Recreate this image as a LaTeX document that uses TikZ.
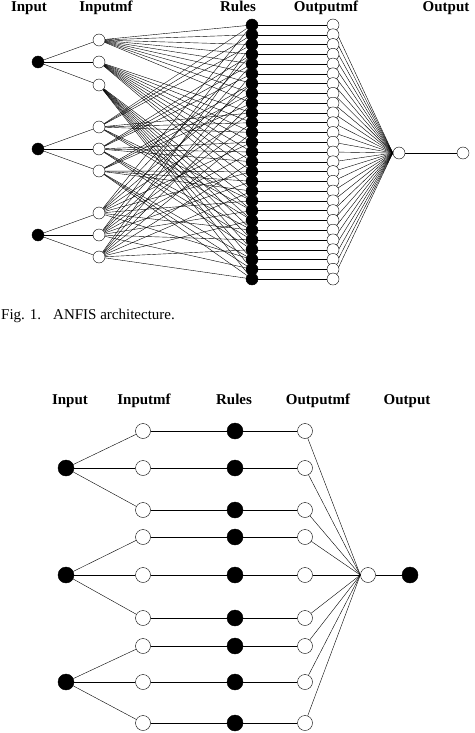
\documentclass[tikz,border=0pt]{standalone}
\usepackage{fontspec}
\setmainfont{Liberation Serif}
\usepackage{tikz}
\usetikzlibrary{positioning, backgrounds}

\begin{document}
\begin{tikzpicture}[
    x=1pt, y=-1pt,
    font=\fontsize{15}{17}\selectfont,
    layer/.style={
        anchor=base,
        inner sep=0pt,
        font=\fontsize{15}{17}\selectfont\bfseries
    },
    dot/.style={circle, draw=black, fill=black, inner sep=0pt, minimum size=12pt},
    ring/.style={circle, draw=black, fill=white, inner sep=0pt, minimum size=12pt},
    bigdot/.style={dot, minimum size=16pt},
    bigring/.style={ring, minimum size=15pt},
    link/.style={draw=black, line width=0.4pt},
    row/.style={draw=black, line width=0.9pt}
]
    \useasboundingbox (0,0) rectangle (474,733);

    % ---------- Fig. 1: full ANFIS ----------
    % Layer titles (top)
    \node[layer] (tIn)   at (29, 12)  {Input};
    \node[layer] (tMf)   at (106, 12) {Inputmf};
    \node[layer] (tRule) at (238, 12) {Rules};
    \node[layer] (tOmf)  at (326, 12) {Outputmf};
    \node[layer] (tOut)  at (446, 12) {Output};

    % Inputs and their membership functions
    \node[dot] (in1) at (38, 62)  {};
    \node[dot] (in2) at (38, 149) {};
    \node[dot] (in3) at (38, 235) {};
    \foreach \i/\y in {1/40, 2/62, 3/85, 4/127, 5/149, 6/171, 7/213, 8/235, 9/257} {
        \node[ring] (m\i) at (99, \y) {};
    }

    % Rules and output membership functions
    \foreach \k in {1,...,27} {
        \node[dot] (r\k) at (252, {25+9.77*(\k-1)}) {};
    }
    \foreach \k in {1,...,27} {
        \node[ring] (o\k) at (333, {25+9.77*(\k-1)}) {};
    }

    % Output nodes
    \node[ring] (out) at (399, 153) {};
    \node[ring] (res) at (463, 153) {};

    \begin{scope}[on background layer]
        \foreach \i in {1,2,3} {
            \pgfmathtruncatemacro{\a}{3*\i-2}
            \pgfmathtruncatemacro{\b}{3*\i-1}
            \pgfmathtruncatemacro{\c}{3*\i}
            \draw[link] (in\i) -- (m\a);
            \draw[link] (in\i) -- (m\b);
            \draw[link] (in\i) -- (m\c);
        }
        \foreach \k in {1,...,27} {
            \pgfmathtruncatemacro{\p}{div(\k-1,9)+1}
            \pgfmathtruncatemacro{\q}{mod(div(\k-1,3),3)+4}
            \pgfmathtruncatemacro{\s}{mod(\k-1,3)+7}
            \draw[link] (m\p) -- (r\k);
            \draw[link] (m\q) -- (r\k);
            \draw[link] (m\s) -- (r\k);
            \draw[link] (r\k) -- (o\k);
            \draw[link] (o\k) -- (out.west);
        }
        \draw[link] (out) -- (res);
    \end{scope}

    % Caption
    \node[anchor=base west, inner sep=0pt] (caption) at (1, 319) {Fig. 1.\hspace{12pt}ANFIS architecture.};

    % ---------- Reduced network (bottom) ----------
    \node[layer] (bIn)   at (70, 404)  {Input};
    \node[layer] (bMf)   at (144, 404) {Inputmf};
    \node[layer] (bRule) at (234, 404) {Rules};
    \node[layer] (bOmf)  at (318, 404) {Outputmf};
    \node[layer] (bOut)  at (407, 404) {Output};

    \node[bigdot] (x1) at (66, 468) {};
    \node[bigdot] (x2) at (66, 575) {};
    \node[bigdot] (x3) at (66, 682) {};

    \foreach \i/\y in {1/431, 2/468, 3/510, 4/537, 5/575, 6/618, 7/646, 8/682, 9/723} {
        \node[bigring] (bm\i) at (143, \y) {};
        \node[bigdot]  (br\i) at (235, \y) {};
        \node[bigring] (bo\i) at (305, \y) {};
    }

    \node[bigring] (bout) at (368, 575) {};
    \node[bigdot]  (bres) at (410, 575) {};

    \foreach \i in {1,2,3} {
        \pgfmathtruncatemacro{\a}{3*\i-2}
        \pgfmathtruncatemacro{\b}{3*\i-1}
        \pgfmathtruncatemacro{\c}{3*\i}
        \draw[link] (x\i) -- (bm\a);
        \draw[row]  (x\i) -- (bm\b);
        \draw[link] (x\i) -- (bm\c);
    }
    \foreach \i in {1,...,9} {
        \draw[row]  (bm\i) -- (br\i);
        \draw[row]  (br\i) -- (bo\i);
        \draw[link] (bo\i) -- (bout.west);
    }
    \draw[row] (bout) -- (bres);
\end{tikzpicture}
\end{document}
